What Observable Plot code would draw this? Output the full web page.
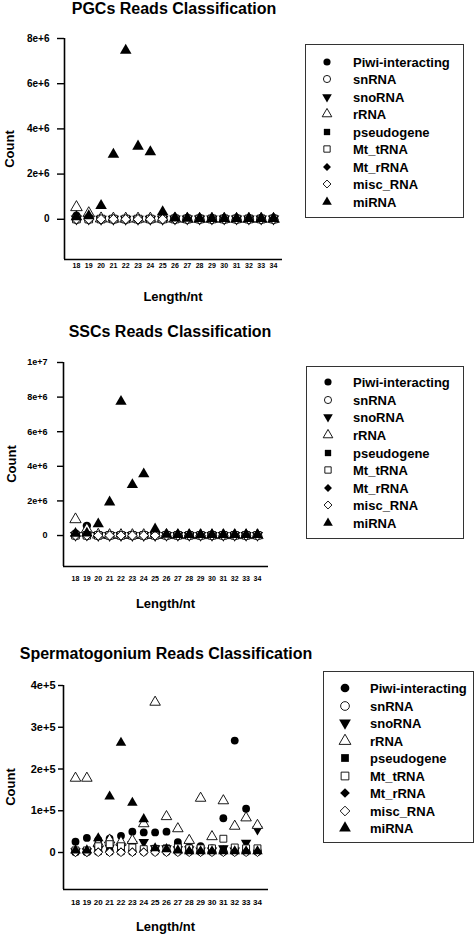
<!DOCTYPE html>
<html><head><meta charset="utf-8">
<script src="https://cdn.jsdelivr.net/npm/d3@7"></script>
<script src="https://cdn.jsdelivr.net/npm/@observablehq/plot@0.6"></script>
<style>
html,body{margin:0;padding:0;background:#fff}
body{width:474px;height:936px;position:relative;overflow:hidden;font-family:"Liberation Sans",Arial,sans-serif;color:#000}
.t{position:absolute;font-weight:bold;line-height:1;white-space:nowrap}
.c{transform:translate(-50%,-50%)}
.r{transform:translate(-50%,-50%) rotate(-90deg)}
.legend{position:absolute;border:1.5px solid #333;box-sizing:border-box;background:#fff}
svg.plot{position:absolute}
svg.plot text{font-weight:bold}
</style>
</head><body>
<script>
// ---------- data ----------
const lengths = [18,19,20,21,22,23,24,25,26,27,28,29,30,31,32,33,34];
const seriesNames = ["Piwi-interacting","snRNA","snoRNA","rRNA","pseudogene","Mt_tRNA","Mt_rRNA","misc_RNA","miRNA"];
const seriesFilled = [true,false,true,false,true,false,true,false,true];

const pgcsTitle = "PGCs Reads Classification";
const pgcsTicks = [0,2e6,4e6,6e6,8e6];
const pgcsCounts = [
  [150000,130000,20000,20000,20000,20000,20000,30000,60000,50000,40000,40000,40000,40000,40000,40000,40000],
  [5000,5000,5000,5000,5000,5000,5000,5000,5000,5000,5000,5000,5000,5000,5000,5000,5000],
  [20000,20000,10000,10000,10000,10000,10000,10000,20000,20000,20000,20000,20000,20000,20000,20000,20000],
  [530000,260000,30000,20000,20000,20000,20000,20000,20000,10000,10000,10000,10000,10000,10000,10000,10000],
  [30000,30000,5000,5000,5000,5000,5000,10000,30000,30000,30000,30000,30000,30000,30000,30000,30000],
  [10000,10000,10000,10000,10000,10000,10000,10000,10000,10000,10000,10000,10000,10000,10000,10000,10000],
  [20000,20000,5000,5000,5000,5000,5000,10000,20000,20000,20000,20000,20000,20000,20000,20000,20000],
  [2000,2000,2000,2000,2000,2000,2000,2000,2000,2000,2000,2000,2000,2000,2000,2000,2000],
  [100000,150000,600000,2870000,7470000,3230000,2980000,330000,50000,40000,30000,30000,30000,30000,30000,30000,30000]
];

const sscsTitle = "SSCs Reads Classification";
const sscsTicks = [0,2e6,4e6,6e6,8e6,1e7];
const sscsCounts = [
  [120000,560000,20000,20000,20000,20000,20000,30000,60000,50000,40000,40000,40000,40000,40000,40000,40000],
  [5000,5000,5000,5000,5000,5000,5000,5000,5000,5000,5000,5000,5000,5000,5000,5000,5000],
  [20000,30000,10000,10000,10000,10000,10000,10000,20000,20000,20000,20000,20000,20000,20000,20000,20000],
  [930000,350000,40000,20000,20000,20000,20000,20000,20000,10000,10000,10000,10000,10000,10000,10000,10000],
  [30000,30000,5000,5000,5000,5000,5000,10000,30000,30000,30000,30000,30000,30000,30000,30000,30000],
  [10000,10000,10000,10000,10000,10000,10000,10000,10000,10000,10000,10000,10000,10000,10000,10000,10000],
  [20000,20000,5000,5000,5000,5000,5000,10000,20000,20000,20000,20000,20000,20000,20000,20000,20000],
  [2000,2000,2000,2000,2000,2000,2000,2000,2000,2000,2000,2000,2000,2000,2000,2000,2000],
  [120000,130000,660000,1930000,7750000,2940000,3560000,370000,60000,50000,40000,40000,40000,40000,40000,40000,40000]
];

const spgTitle = "Spermatogonium Reads Classification";
const spgTicks = [0,1e5,2e5,3e5,4e5];
const spgCounts = [
  [26000,35000,30000,33000,40000,50000,48000,48000,50000,25000,12000,15000,10000,82000,268000,105000,5000],
  [1000,1000,2000,2000,2000,2000,2000,2000,2000,2000,2000,2000,2000,2000,2000,2000,2000],
  [3000,3000,8000,12000,12000,20000,25000,10000,10000,8000,8000,5000,5000,10000,5000,23000,55000],
  [178000,178000,22000,30000,25000,29000,69000,360000,86000,57000,29000,130000,38000,124000,63000,83000,65000],
  [2000,2000,3000,3000,3000,3000,5000,10000,11000,15000,10000,8000,8000,8000,8000,8000,8000],
  [5000,5000,15000,20000,15000,12000,8000,8000,8000,12000,10000,10000,10000,33000,12000,10000,10000],
  [2000,2000,2000,2000,2000,2000,2000,3000,3000,3000,3000,3000,3000,3000,3000,3000,3000],
  [500,500,500,500,500,500,500,500,500,500,500,500,500,500,500,500,500],
  [5000,5000,34000,134000,263000,119000,80000,10000,8000,5000,3000,3000,3000,3000,3000,3000,3000]
];

// ---------- symbols ----------
const triangleDown = {
  draw(ctx, size) {
    const y = -Math.sqrt(size / (Math.sqrt(3) * 3));
    ctx.moveTo(0, -y * 2);
    ctx.lineTo(-Math.sqrt(3) * y, y);
    ctx.lineTo(Math.sqrt(3) * y, y);
    ctx.closePath();
  }
};
const seriesSymbols = [d3.symbolCircle, d3.symbolCircle, triangleDown, d3.symbolTriangle, d3.symbolSquare, d3.symbolSquare, d3.symbolDiamond2, d3.symbolDiamond2, d3.symbolTriangle];

const fmt = d => d === 0 ? "0" : d3.format(".0e")(d);

function addText(txt, x, y, cls, size) {
  const d = document.createElement("div");
  d.className = "t " + cls;
  d.style.left = x + "px"; d.style.top = y + "px";
  d.style.fontSize = size + "px";
  d.textContent = txt;
  document.body.appendChild(d);
  return d;
}

function panel(cfg) {
  const marks = [];
  seriesNames.forEach((name, i) => {
    const data = lengths.map((L, j) => ({L, v: cfg.counts[i][j]}));
    marks.push(Plot.dot(data, {
      x: "L", y: "v", symbol: seriesSymbols[i], r: cfg.r,
      fill: seriesFilled[i] ? "black" : "white",
      stroke: seriesFilled[i] ? "none" : "black",
      strokeWidth: 0.9
    }));
  });
  marks.push(Plot.ruleX([cfg.xDomain[0]], {stroke: "black", strokeWidth: 1.6}));
  marks.push(Plot.ruleY([cfg.yDomain[0]], {stroke: "black", strokeWidth: 1.6}));
  marks.push(Plot.axisY({ticks: cfg.ticks, tickFormat: fmt, tickSize: cfg.yTickSize, tickPadding: cfg.yTickPad, fontSize: cfg.yFont, fontWeight: "bold", strokeWidth: 1.4, label: null}));
  marks.push(Plot.axisX({ticks: lengths, tickFormat: d => String(d), tickSize: 0, tickPadding: cfg.xTickPad, fontSize: cfg.xFont, fontWeight: "bold", label: null}));
  const svg = Plot.plot({
    width: cfg.width, height: cfg.height,
    marginTop: cfg.mt, marginBottom: cfg.mb, marginLeft: cfg.ml, marginRight: cfg.mr,
    x: {type: "linear", domain: cfg.xDomain},
    y: {type: "linear", domain: cfg.yDomain},
    style: {fontFamily: "Liberation Sans, Arial, sans-serif", color: "black", background: "transparent", overflow: "visible"},
    marks
  });
  svg.classList.add("plot");
  svg.style.left = "0px"; svg.style.top = cfg.top + "px";
  document.body.appendChild(svg);

  addText(cfg.title, cfg.titleX, cfg.titleY, "c", 16);
  addText("Count", cfg.countX, cfg.countY, "r", 13);
  addText("Length/nt", cfg.lenX, cfg.lenY, "c", 13);

  const lg = document.createElement("div");
  lg.className = "legend";
  lg.style.left = cfg.lg.x0 + "px"; lg.style.top = cfg.lg.y0 + "px";
  lg.style.width = (cfg.lg.x1 - cfg.lg.x0) + "px"; lg.style.height = (cfg.lg.y1 - cfg.lg.y0) + "px";
  document.body.appendChild(lg);
  seriesNames.forEach((name, i) => {
    const cy = cfg.lg.row0 + i * cfg.lg.step;
    const s = d3.create("svg").attr("width", 16).attr("height", 16)
      .style("position", "absolute").style("left", (cfg.lg.sx - 8) + "px").style("top", (cy - 8) + "px").style("overflow", "visible");
    s.append("path").attr("transform", "translate(8,8)")
      .attr("d", d3.symbol(seriesSymbols[i], cfg.lg.size)())
      .attr("fill", seriesFilled[i] ? "black" : "white")
      .attr("stroke", seriesFilled[i] ? "none" : "black")
      .attr("stroke-width", 0.9);
    document.body.appendChild(s.node());
    const t = addText(name, cfg.lg.tx, cy, "", 13);
    t.style.transform = "translateY(-50%)";
  });
}

panel({
  title: pgcsTitle, counts: pgcsCounts, ticks: pgcsTicks,
  top: 20, width: 290, height: 290, mt: 18, mb: 51, ml: 64, mr: 8,
  xDomain: [17.03, 34.73], yDomain: [-1.78e6, 8e6],
  r: 4.3, yTickSize: 7, yTickPad: 8, yFont: 10, xTickPad: 4, xFont: 7,
  titleX: 174, titleY: 9, countX: 9, countY: 148.5, lenX: 173, lenY: 296,
  lg: {x0: 305, y0: 44, x1: 464, y1: 218, sx: 327, tx: 353, row0: 62, step: 17.45, size: 40}
});
panel({
  title: sscsTitle, counts: sscsCounts, ticks: sscsTicks,
  top: 340, width: 290, height: 270, mt: 22, mb: 44, ml: 63, mr: 22,
  xDomain: [16.945, 34.97], yDomain: [-1.79e6, 1e7],
  r: 4.2, yTickSize: 6, yTickPad: 10, yFont: 9, xTickPad: 10, xFont: 7,
  titleX: 170, titleY: 332, countX: 11, countY: 464, lenX: 165.5, lenY: 603,
  lg: {x0: 306, y0: 366, x1: 464, y1: 539, sx: 328, tx: 353, row0: 382.3, step: 17.55, size: 40}
});
panel({
  title: spgTitle, counts: spgCounts, ticks: spgTicks,
  top: 665, width: 290, height: 271, mt: 20, mb: 47, ml: 63, mr: 22,
  xDomain: [16.945, 34.97], yDomain: [-0.886e5, 4e5],
  r: 3.9, yTickSize: 5, yTickPad: 3, yFont: 11, xTickPad: 10, xFont: 8,
  titleX: 166, titleY: 654, countX: 10, countY: 787, lenX: 165.5, lenY: 926,
  lg: {x0: 323, y0: 671, x1: 474, y1: 843, sx: 345, tx: 370, row0: 688, step: 17.5, size: 60}
});
</script>
</body></html>
